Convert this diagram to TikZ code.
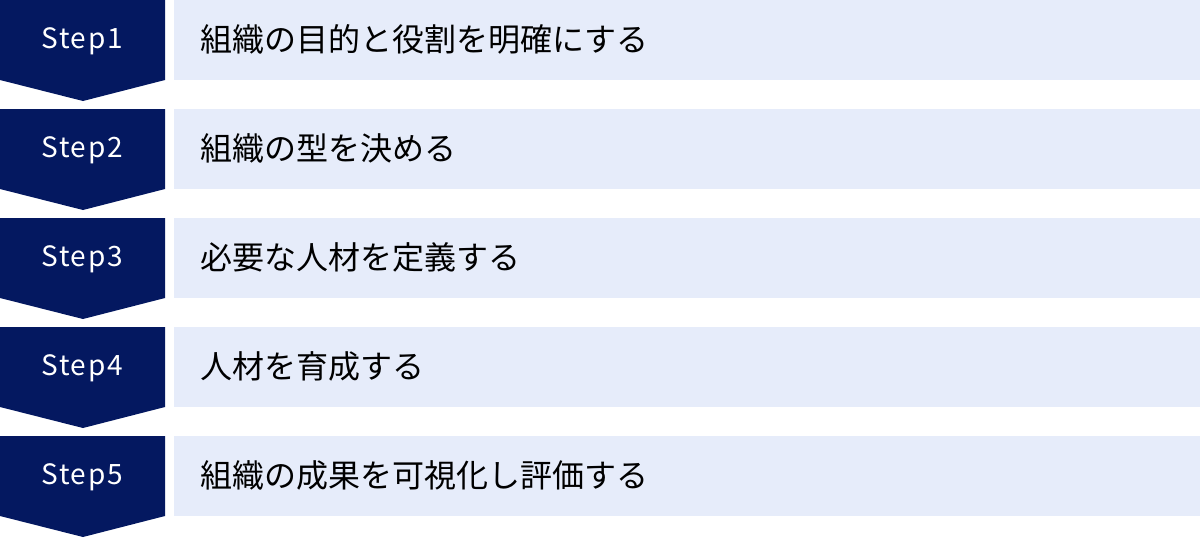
\documentclass[tikz,border=0pt]{standalone}
\usepackage{fontspec}
\newfontfamily\jp{Noto Sans CJK JP}
\newfontfamily\jpsp[LetterSpace=6]{Noto Sans CJK JP}
\definecolor{navy}{RGB}{4,24,96}
\definecolor{pale}{RGB}{230,236,250}
\begin{document}
\begin{tikzpicture}[x=1pt,y=-1pt,
  stepshape/.style={fill=navy,draw=none},
  stepbox/.style={fill=pale,draw=none},
  steplabel/.style={text=white,font=\jpsp\fontsize{28}{32}\selectfont,inner sep=0pt},
  boxlabel/.style={text=black,font=\jp\fontsize{32}{36}\selectfont,inner sep=0pt,anchor=west}]
\useasboundingbox (0,0) rectangle (1200,538);
\foreach \i/\t in {0/組織の目的と役割を明確にする,1/組織の型を決める,2/必要な人材を定義する,3/人材を育成する,4/組織の成果を可視化し評価する}{
  \pgfmathsetmacro{\yy}{109*\i}
  \pgfmathtruncatemacro{\n}{\i+1}
  \fill[stepshape] (0,\yy) -- (165,\yy) -- (165,\yy+80) -- (83,\yy+101) -- (0,\yy+80) -- cycle;
  \fill[stepbox] (174,\yy) rectangle (1200,\yy+80);
  \node[steplabel] (s\n) at (82,\yy+41) {Step\n};
  \node[boxlabel] (b\n) at (200,\yy+39) {\t};
}
\end{tikzpicture}
\end{document}
